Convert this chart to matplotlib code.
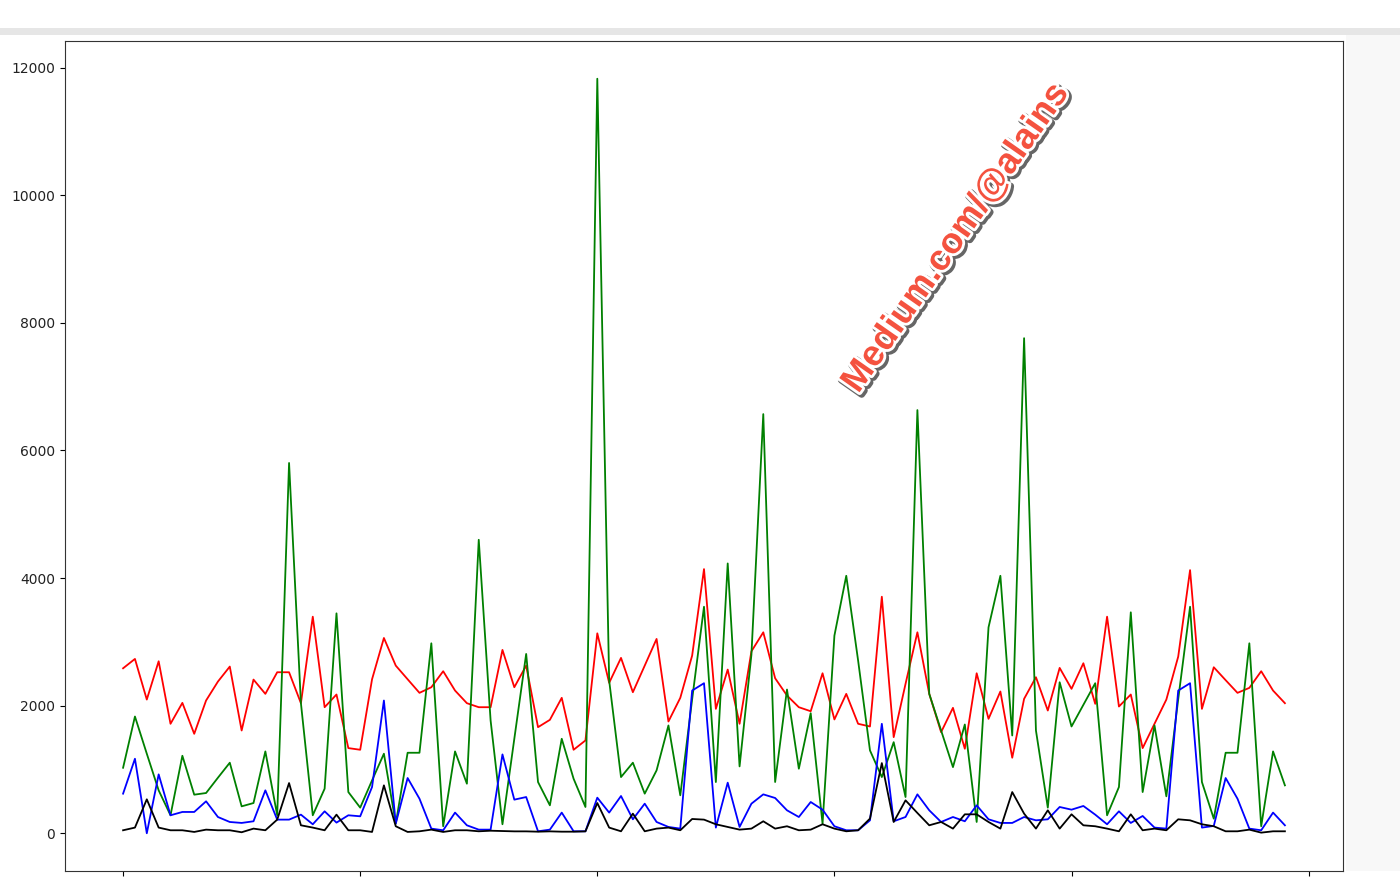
import matplotlib
matplotlib.use("Agg")
from matplotlib import pyplot as plt
import matplotlib.patheffects as pe
from matplotlib.patches import Rectangle
import numpy as np

# daily counts, one value per day
red = [2586, 2733, 2096, 2696, 1716, 2044, 1559, 2081, 2378, 2613,
       1611, 2409, 2185, 2524, 2524, 2039, 3395, 1976, 2175, 1335,
       1309, 2414, 3061, 2628, 2414, 2201, 2289, 2540, 2237, 2039,
       1976, 1976, 2874, 2289, 2628, 1663, 1778, 2123, 1309, 1455,
       3134, 2358, 2749, 2211, 2628, 3046, 1752, 2123, 2785, 4141,
       1950, 2566, 1716, 2852, 3150, 2430, 2159, 1976, 1913, 2508,
       1784, 2185, 1716, 1674, 3708, 1507, 2342, 3150, 2185, 1585,
       1966, 1325, 2508, 1794, 2222, 1184, 2107, 2446, 1924, 2592,
       2264, 2665, 2029, 3395, 1987, 2175, 1335, 1716, 2096, 2769,
       4125, 1950, 2602, 2400, 2201, 2279, 2540, 2237, 2039]

green = [1027, 1830, 1247, 673, 282, 1215, 605, 631, 871, 1106,
         422, 474, 1283, 282, 5804, 2039, 282, 699, 3447, 646,
         402, 829, 1247, 151, 1262, 1262, 2978, 110, 1283, 777,
         4600, 1768, 141, 1481, 2811, 803, 438, 1481, 855, 412,
         11827, 2394, 881, 1106, 621, 986, 1690, 595, 2100, 3551,
         803, 4229, 1048, 2800, 6570, 803, 2253, 1012, 1882, 151,
         3098, 4036, 2707, 1299, 881, 1428, 568, 6633, 2185, 1611,
         1037, 1705, 177, 3228, 4036, 1533, 7760, 1611, 402, 2367,
         1674, 2013, 2352, 282, 725, 3463, 646, 1690, 579, 2100,
         3551, 803, 229, 1262, 1262, 2978, 110, 1283, 751]

blue = [621, 1168, 0, 923, 282, 334, 334, 501, 255, 177,
        162, 188, 673, 214, 214, 292, 141, 344, 167, 282,
        266, 725, 2081, 151, 866, 542, 73, 47, 324, 125,
        57, 57, 1236, 527, 568, 31, 57, 324, 31, 31,
        558, 324, 584, 219, 464, 177, 99, 73, 2237, 2352,
        89, 793, 99, 464, 610, 553, 360, 255, 490, 370,
        110, 47, 47, 203, 1716, 188, 255, 610, 360, 177,
        255, 188, 438, 219, 162, 162, 255, 203, 219, 412,
        370, 428, 292, 141, 344, 162, 271, 89, 73, 2237,
        2352, 89, 115, 866, 542, 73, 47, 324, 125]

black = [47, 89, 532, 89, 47, 47, 21, 57, 47, 47,
         16, 73, 47, 214, 787, 125, 89, 47, 292, 47,
         47, 21, 751, 110, 21, 31, 57, 21, 47, 47,
         31, 40, 35, 30, 30, 25, 30, 25, 25, 30,
         474, 89, 31, 308, 31, 73, 89, 47, 224, 214,
         141, 99, 57, 73, 188, 73, 110, 47, 57, 141,
         73, 31, 47, 230, 1100, 177, 516, 318, 125, 177,
         73, 297, 297, 177, 73, 646, 308, 73, 360, 73,
         297, 125, 110, 73, 31, 297, 47, 73, 47, 219,
         203, 141, 110, 31, 31, 57, 10, 31, 31]

days = np.arange(len(red))

fig = plt.figure(figsize=(14, 8.85), dpi=100)
ax = fig.add_axes([65 / 1400, 1 - 871 / 885, (1343 - 65) / 1400, (871 - 41) / 885])

# browser bits around the screenshot
fig.patches.append(Rectangle((0, 1 - 35 / 885), 1, 7 / 885, transform=fig.transFigure,
                             facecolor="#e6e6e6", edgecolor="none", zorder=0))
fig.patches.append(Rectangle((1346 / 1400, 1 - 871 / 885), 54 / 1400, (871 - 35) / 885,
                             transform=fig.transFigure, facecolor="#f8f8f8",
                             edgecolor="none", zorder=0))

ax.plot(days, red, color="red", lw=1.3)
ax.plot(days, green, color="green", lw=1.3)
ax.plot(days, blue, color="blue", lw=1.3)
ax.plot(days, black, color="black", lw=1.3)

ax.set_xticks(range(0, 101, 20))
ax.tick_params(axis="x", labelbottom=False)
ax.tick_params(axis="y", labelsize=10, labelcolor="#222222")
ax.set_yticks(range(0, 12001, 2000))
for s in ax.spines.values():
    s.set_color("#333333")

# watermark
fig.text(956 / 1400, 1 - 238 / 885, "Medium.com/@alains", rotation=55,
         rotation_mode="anchor", ha="center", va="center",
         fontsize=26, fontweight="bold", family="Liberation Sans",
         color="#f4523f",
         path_effects=[pe.Stroke(linewidth=5, foreground="#666666", offset=(1.5, -1.5)),
                       pe.Stroke(linewidth=4, foreground="white"),
                       pe.Normal()])

fig.savefig("out.png", dpi=100)
